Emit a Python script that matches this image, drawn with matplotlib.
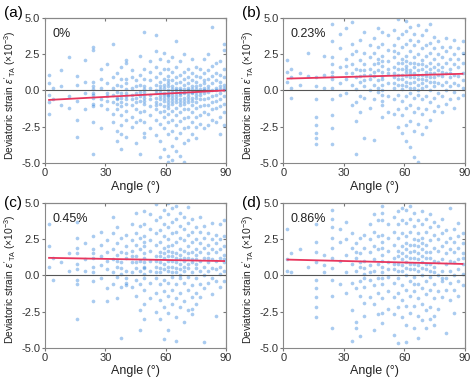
import matplotlib
matplotlib.use("Agg")
import matplotlib.pyplot as plt

plt.rcParams['font.family'] = ['Liberation Sans', 'DejaVu Sans']
plt.rcParams['axes.unicode_minus'] = False
plt.rcParams['mathtext.fontset'] = 'custom'
plt.rcParams['mathtext.rm'] = 'Liberation Sans'
plt.rcParams['mathtext.it'] = 'Liberation Sans:italic'

# stripe angles (deg) shared by all four panels
angles = [2, 4, 8, 12, 16, 20, 24, 28, 31, 34, 36, 38, 40, 43, 45, 47, 49, 52,
          55, 57, 59, 61, 63, 65, 67, 69, 71, 73, 75, 77, 79, 81, 83, 85, 87, 89]

# deviatoric strain values (x1e-3) read per stripe
strain_a = [
    [-0.3, 0.5, 1.1, -1.6, -0.8],
    [-0.6, 0.2],
    [-1.0, 0.3, 1.4],
    [-0.4, 2.3, -1.2],
    [-0.7, -2.0, -3.2, 0.4, 1.0],
    [-0.2, 2.1, -1.3, 0.6],
    [3.0, 2.8, 0.3, -0.2, -0.5, -0.9, -1.1, 0.6, -2.2, -4.4, -0.3, 0.1],
    [1.5, -0.6, -1.0, 0.2, -2.6, 0.8],
    [-0.4, -0.7, 0.5, -1.3, 1.8, -0.2],
    [-0.3, 0.9, -1.6, -2.2, 0.2, -0.8, 3.2],
    [-0.9, -0.5, -0.1, 0.4, -1.3, -2.8, 1.2, -0.6, -3.5],
    [-0.2, -0.8, -1.1, -1.7, 0.3, 0.8, -2.4, -3.0, 1.6, -0.5, -4.0],
    [0.1, -0.4, -0.9, 0.5, 1.9, -1.4, -2.0, -0.2, 2.1, -3.2, 0.8, -0.6],
    [-0.3, 0.2, -1.0, -1.8, 0.9, -2.5, -0.6, 1.4],
    [-0.8, -0.2, 0.3, -1.3, -3.6, 0.7, -0.5, -2.2],
    [0.4, -0.1, -0.7, -1.5, -2.0, 1.1, 2.4, -4.4, -0.4],
    [-0.5, -0.1, 0.3, -0.9, -1.4, 0.8, -2.2, -2.9, -3.2, 1.5, -0.3, -0.7, 0.1, 4.0],
    [0.2, -0.6, -1.1, 0.7, -1.7, 1.3, -2.6, -0.3, 2.0],
    [-0.2, 0.4, -0.8, -1.3, 0.9, -2.0, 1.6, -0.5, -3.1, 2.7, -1.0, 0.0, 3.8],
    [0.1, -0.4, -0.9, 0.6, -1.5, 1.2, -2.3, 2.2, -0.1, -3.5, 0.3, -0.6, -4.6],
    [-0.3, 0.2, -0.7, -1.1, 0.8, -1.8, 1.5, -2.6, -0.2, -0.5, 0.4, -4.0, 2.6, -1.4],
    [-0.4, 0.0, -0.8, -1.2, 0.5, -1.6, 1.0, -2.2, -0.2, -0.6, 0.3, -3.0, 2.0, -1.0,
     -4.5, -0.3, 0.7, -4.9, 1.5],
    [-0.1, -0.5, 0.3, -0.9, -1.4, 0.7, -2.0, 1.3, -0.3, -2.8, -0.7, 0.1, -3.8, 2.3, -4.8],
    [0.0, -0.4, 0.5, -0.8, -1.2, 0.9, -1.7, -0.2, -2.4, 1.6, -3.3, -0.6, 0.2, -4.2, 3.4],
    [-0.2, 0.2, -0.6, -1.0, 0.6, -1.5, 1.1, -2.1, -0.3, -2.9, 0.0, -4.5, 2.0, -0.8],
    [-0.1, 0.4, -0.5, -0.9, 0.8, -1.3, -1.9, 1.3, -0.2, -2.6, 0.1, -3.6, -0.7, 2.5, -4.9],
    [0.0, -0.4, 0.5, -0.8, -1.3, 0.9, -1.8, -0.2, 1.5, -2.5, -0.6, 0.2, -3.4],
    [-0.2, 0.3, -0.5, -1.0, 0.7, -1.5, -0.1, -2.2, 1.2, -0.7, 0.1, -3.0, 2.2],
    [0.1, -0.3, 0.6, -0.8, -1.2, 1.0, -1.8, -0.1, -2.5, 0.3, -0.5, 1.6, -3.3],
    [-0.1, 0.4, -0.6, 0.9, -1.1, -1.7, 0.1, 1.5, -2.3, -0.3],
    [0.2, -0.2, 0.7, -0.6, 1.2, -1.0, 2.2, -1.5, 0.0, -2.6, 0.5],
    [-0.1, 0.3, -0.5, 0.8, -1.0, 1.4, -1.6, 0.1, -2.4, 2.5],
    [0.0, 0.5, -0.4, 1.0, -0.8, -1.3, 1.7, -2.0, 4.4],
    [0.2, -0.3, 0.7, -0.7, 1.2, -1.2, 0.0, -2.2, 1.9],
    [0.1, -0.2, 0.6, -0.6, 1.1, -1.1, 2.0, -1.8, 0.3, -3.0],
    [0.0, 0.4, -0.4, 0.9, -0.9, 1.5, -1.5, 2.8, -2.4, 0.2, 3.2],
]

strain_b = [
    [0.6, 1.3, 2.1],
    [0.2, 0.9, -0.5, 1.5],
    [1.2, 0.4],
    [1.0, 2.6],
    [0.3, -0.6, -1.8, -2.9, -3.3, -3.7, 0.9, -2.4],
    [1.1, 0.2, 2.4],
    [2.3, 1.8, 1.3, 0.8, 0.2, -0.6, -1.7, -2.6, -3.7, 3.4, 4.6, 1.0],
    [1.6, 0.5, 2.9, -0.3, 3.9],
    [0.8, 1.7, 2.2, -0.2, 4.3, 1.2],
    [1.2, 0.4, 2.5, 1.8, -1.0, 3.2, 4.7],
    [0.9, 1.5, -0.8, -2.1, 2.7, 0.1, -4.4],
    [1.4, 0.6, 2.1, -0.4, 3.5, 1.0, -1.5],
    [1.1, 0.3, 1.8, -0.5, 2.6, 4.0, -3.3, 0.7, 1.4],
    [0.8, 1.5, 2.3, 0.0, -1.2, 3.1, 1.1],
    [1.0, 1.8, 0.4, 2.6, -0.6, 3.6, -3.4, 1.3],
    [0.7, 1.4, 2.2, -0.1, 3.0, 1.9, 0.2, 4.3],
    [1.0, 0.4, 1.7, -0.3, 2.4, -1.0, 0.8, 1.3, -0.7, 3.2, 2.0, 0.0, -1.8, 4.0],
    [1.2, 0.5, 2.0, -0.4, 2.8, 1.5, -1.5, 3.8],
    [0.9, 1.6, 0.2, 2.3, -0.6, 3.1, 1.2, -1.6, 4.2, 0.5, 2.7],
    [1.1, 0.4, 1.9, -0.3, 2.6, 0.8, -1.3, 3.6, 1.5, -2.5, 4.9],
    [0.8, 1.5, 0.1, 2.2, -0.7, 3.0, 1.1, -1.7, 3.9, 0.4, -2.9, 1.9],
    [1.0, 1.7, 0.3, 2.4, -0.4, 3.2, 1.3, -1.2, 4.1, 0.6, 2.0, -2.4, -3.5, 1.5, 4.8],
    [1.2, 0.5, 1.9, -0.2, 2.7, 0.9, -1.0, 3.5, 1.4, -2.1, 4.4, 0.2, -3.9],
    [0.9, 1.6, 0.2, 2.3, -0.5, 3.1, 1.2, -1.5, 3.9, 0.6, -2.8, 1.9, -4.6],
    [1.1, 0.4, 1.8, -0.3, 2.5, 0.8, -1.2, 3.4, 1.4, -2.3, 4.5, 0.0, -4.9],
    [0.8, 1.5, 0.2, 2.1, -0.6, 2.9, 1.1, -1.6, 3.8, 0.5, -3.0, 1.8],
    [1.0, 1.7, 0.3, 2.4, -0.4, 3.1, 1.3, -1.3, 4.2, 0.7, -2.5],
    [1.2, 0.6, 1.9, 0.0, 2.6, 1.5, -0.8, 3.3, 0.9, -2.0, 4.6],
    [0.9, 1.6, 0.3, 2.2, -0.5, 2.9, 1.2, -1.4, 3.7, 0.6],
    [1.1, 0.5, 1.8, -0.2, 2.5, 1.4, -1.1, 3.4],
    [1.0, 1.6, 0.4, 2.3, -0.4, 3.0, 1.3, -1.5],
    [1.2, 0.6, 1.9, 0.0, 2.7, -0.9, 3.6],
    [0.9, 1.5, 0.3, 2.2, -0.6, 3.0, 1.2],
    [1.1, 0.5, 1.8, -0.1, 2.5, -1.2, 3.5],
    [1.0, 1.6, 0.4, 2.2, -0.5, 2.9],
    [1.2, 0.7, 1.9, 0.2, 2.6, -0.3, 3.4],
]

strain_c = [
    [2.0, 3.5, 0.6],
    [-0.3, 1.2],
    [0.9],
    [1.5, 0.3],
    [3.7, 2.6, 1.5, 0.8, -0.3, -0.6, 0.4, 1.9, -3.0],
    [1.1, 0.3, 2.2],
    [1.8, 1.2, 0.6, 2.7, -0.4, 0.2, 1.5, -1.8],
    [1.3, 0.7, 2.1, -0.2, 3.0],
    [1.6, 0.4, 2.4, -0.9, 1.0, -1.8],
    [1.1, 1.8, 0.2, 2.9, -0.6, 4.0],
    [1.4, 0.6, 2.2, -0.1, 3.3, 1.0, -1.6],
    [0.9, 1.6, 0.1, 2.6, -0.8, 0.5, -4.3],
    [1.2, 0.3, 2.0, -0.5, 2.8, -0.7, 1.5, -0.2],
    [0.9, 1.7, 0.2, 2.4, -0.8, 3.5, 1.3],
    [1.3, 0.5, 2.1, -0.3, 2.9, -1.4, 4.3, 0.9],
    [1.0, 1.8, 0.3, 2.6, -0.6, 3.4, -2.4, -3.8],
    [1.2, 0.5, 2.0, -0.2, 2.7, 0.9, 1.5, 0.1, 3.5, -1.0, 4.4, 0.6, 2.3, -2.0, -3.0],
    [1.0, 1.7, 0.3, 2.4, -0.5, 3.2, -1.6, 4.2],
    [1.3, 0.6, 2.1, -0.2, 2.9, 1.0, -1.2, 3.8, -2.5, 0.2, 4.9],
    [0.9, 1.6, 0.2, 2.3, -0.6, 3.1, 1.3, -1.7, 4.0, -3.0, 0.5],
    [1.2, 0.4, 1.9, -0.3, 2.7, 0.8, -1.1, 3.5, 1.5, -2.2, 4.5, -4.4],
    [1.0, 1.7, 0.3, 2.5, -0.5, 3.3, 1.3, -1.4, 4.2, 0.6, 2.0, -2.6, 5.0, -3.8],
    [1.3, 0.6, 2.1, -0.1, 2.9, 1.0, -1.0, 3.7, 1.6, -2.0, 4.6, 0.2],
    [0.9, 1.5, 0.2, 2.3, -0.6, 3.0, 1.2, -1.6, 3.9, 0.5, -2.9, 4.8, -4.5],
    [1.1, 0.4, 1.8, -0.2, 2.6, 0.8, -1.2, 3.4, 1.4, -2.2, 4.3, 0.0],
    [1.0, 1.7, 0.3, 2.4, -0.5, 3.2, 1.2, -1.8, 4.0, 0.6, -3.2],
    [1.2, 0.5, 2.0, -0.1, 2.8, 1.5, -1.0, 3.6, 0.8, -2.4, 4.7],
    [0.9, 1.6, 0.2, 2.3, -0.7, 3.0, 1.1, -1.5, 3.9, -2.3, -2.7],
    [1.1, 0.5, 1.8, -0.2, 2.5, 1.4, -1.2, 3.3, 0.8, -2.0],
    [1.0, 1.6, 0.3, 2.2, -0.6, 3.0, -1.5, 4.0],
    [1.2, 0.6, 1.9, 0.0, 2.6, -0.9, 3.4, -4.6],
    [0.9, 1.5, 0.3, 2.1, -0.5, 2.9, 1.2],
    [1.1, 0.5, 1.8, -0.2, 2.5, -1.3, 3.6],
    [1.0, 1.6, 0.4, 2.2, -0.4, 2.8, -2.8],
    [1.2, 0.6, 1.8, 0.1, 2.5, -0.8, 3.5],
    [0.9, 1.4, 0.3, 2.0, -0.4, 2.7, 3.8, 1.1],
]

strain_d = [
    [3.2, 1.1, 0.3],
    [0.2, 1.5],
    [1.8],
    [0.6],
    [3.5, 2.3, 0.9, -0.3, -0.9, -1.5, -2.2, -2.9, 1.6],
    [0.7, 0.2, 1.4],
    [4.5, 3.9, 3.3, 2.6, 1.9, 1.2, 0.5, -0.3, -1.4, -3.6],
    [2.3, 1.0, -0.6, 3.2],
    [1.4, 0.2, 2.5, -1.2, 3.7],
    [0.8, 1.9, -0.5, 2.9, -2.4, -4.5],
    [1.2, 0.3, 2.2, -0.9, -3.2, -3.6, 1.6],
    [0.6, 1.5, -0.4, 2.6, -1.4, 0.9, -4.2],
    [1.0, 0.1, 1.9, -0.8, 2.8, -1.9, -2.8, 0.5, -0.2],
    [0.7, 1.6, -0.3, 2.5, -1.5, 3.5, 0.2],
    [1.1, 0.3, 2.0, -0.7, 3.0, -2.0, 4.2, -3.8],
    [0.8, 1.8, -0.2, 2.7, -1.2, 3.8, -2.7],
    [1.0, 0.2, 1.9, -0.6, 2.8, -1.6, 3.8, -2.6, 4.8, 0.6, 1.4, 2.3, -0.2, -3.3, 4.3],
    [0.9, 1.7, -0.1, 2.6, -1.1, 3.5, -2.3, 0.4],
    [1.2, 0.4, 2.1, -0.5, 3.0, -1.5, 4.0, -2.7, 0.8, -4.1],
    [0.8, 1.7, -0.2, 2.6, -1.2, 3.5, 0.3, -2.2, 4.4, 1.3, -4.7],
    [1.1, 0.3, 2.0, -0.7, 2.9, -1.7, 3.8, 0.7, -2.9, 4.6, 1.5],
    [0.9, 1.8, 0.0, 2.7, -1.0, 3.6, 0.5, -2.1, 4.5, 1.3, -3.4, 2.2, -4.6],
    [1.2, 0.4, 2.1, -0.4, 3.0, -1.4, 3.9, 0.8, -2.6, 4.8, 1.6],
    [0.8, 1.7, -0.1, 2.5, -1.1, 3.4, 0.4, -2.1, 4.3, 1.2, -3.6, 2.1, -0.6],
    [1.1, 0.3, 2.0, -0.6, 2.9, -1.6, 3.8, 0.7, -2.8, 1.5, -4.3, 2.4],
    [0.9, 1.8, 0.0, 2.6, -0.9, 3.5, 0.5, -2.0, 4.4, 1.3, -3.1, 2.2],
    [1.2, 0.4, 2.1, -0.4, 3.0, -1.3, 3.9, 0.8, -2.4, 1.6, -3.6],
    [0.8, 1.6, -0.1, 2.4, -1.0, 3.3, 0.3, -2.2, 4.2, 1.2, -3.0],
    [1.0, 0.2, 1.9, -0.6, 2.8, -1.6, 3.7, 0.6, -2.8, -3.4],
    [0.9, 1.7, 0.0, 2.5, -1.1, 3.4, -2.3],
    [1.1, 0.3, 2.0, -0.4, 2.9, -1.5, 3.9, -0.2],
    [0.8, 1.5, -0.2, 2.3, -1.0, 3.1, -4.0],
    [1.0, 0.3, 1.8, -0.5, 2.6, -1.7, 4.6],
    [0.9, 1.6, 0.0, 2.3, -1.0, 3.2, -2.6],
    [1.1, 0.4, 1.9, -0.4, 2.7, -1.4, 3.6],
    [0.8, 1.5, 0.1, 2.2, -0.7, 2.9, 1.2],
]

# linear fit end points
fit_x = [2, 89]
fit_a = [-0.65, 0.0]
fit_b = [0.82, 1.15]
fit_c = [1.2, 0.98]
fit_d = [1.08, 0.78]

labels = ['(a)', '(b)', '(c)', '(d)']
strains = ['0%', '0.23%', '0.45%', '0.86%']
data = [strain_a, strain_b, strain_c, strain_d]
fits = [fit_a, fit_b, fit_c, fit_d]

fig = plt.figure(figsize=(4.74, 3.81), dpi=100)
lefts = [0.095, 0.598, 0.095, 0.598]
bottoms = [0.572, 0.572, 0.087, 0.087]
label_xy = [(0.008, 0.966), (0.511, 0.966), (0.008, 0.467), (0.511, 0.467)]

for i in range(4):
    ax = fig.add_axes([lefts[i], bottoms[i], 0.382, 0.381])
    xs, ys = [], []
    for ang, vals in zip(angles, data[i]):
        xs += [ang] * len(vals)
        ys += vals
    ax.scatter(xs, ys, s=7, color='#1f78d8', alpha=0.38, linewidths=0)
    ax.axhline(0, color='#555555', lw=0.8)
    ax.plot(fit_x, fits[i], color='#e8365d', lw=1.3)
    ax.set_xlim(0, 90)
    ax.set_ylim(-5, 5)
    ax.set_xticks([0, 30, 60, 90])
    ax.set_yticks([-5.0, -2.5, 0.0, 2.5, 5.0])
    ax.set_yticklabels(['-5.0', '-2.5', '0.0', '2.5', '5.0'])
    ax.tick_params(labelsize=8, direction='out', length=2, color='#777777',
                   labelcolor='#333333', pad=1.5)
    # inward ticks on the right and top spines
    sec_y = ax.secondary_yaxis('right')
    sec_y.set_yticks([-5.0, -2.5, 0.0, 2.5, 5.0])
    sec_y.tick_params(direction='in', length=2, color='#777777', labelright=False)
    sec_x = ax.secondary_xaxis('top')
    sec_x.set_xticks([0, 30, 60, 90])
    sec_x.tick_params(direction='in', length=2, color='#777777', labeltop=False)
    for a in (ax, sec_y, sec_x):
        for sp in a.spines.values():
            sp.set_color('#888888')
            sp.set_linewidth(0.8)
    ax.set_xlabel('Angle (°)', fontsize=9, labelpad=2, color='#222222')
    ax.set_ylabel(r"Deviatoric strain $\varepsilon'_{\rm TA}$ ($\times10^{-3}$)",
                  fontsize=7.4, labelpad=2, color='#222222')
    ax.yaxis.set_label_coords(-0.15, 0.47)
    ax.text(0.04, 0.93, strains[i], transform=ax.transAxes, fontsize=9, va='top',
            color='#222222')
    fig.text(label_xy[i][0], label_xy[i][1], labels[i], fontsize=11, va='center')

fig.savefig('out.png', dpi=100)
